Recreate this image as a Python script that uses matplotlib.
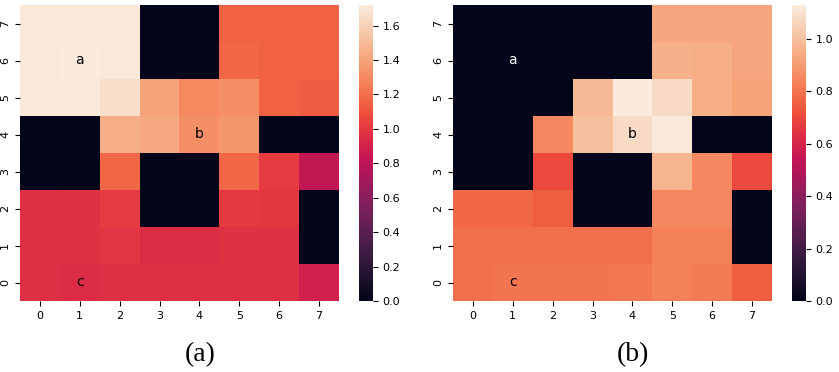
import matplotlib
matplotlib.use("Agg")
import matplotlib.pyplot as plt
import seaborn as sns
import numpy as np

# rows are y = 0 .. 7 (bottom to top), columns x = 0 .. 7
grid_a = [
    [0.97, 0.96, 0.97, 0.97, 0.97, 0.97, 0.97, 0.90],
    [0.97, 0.98, 0.99, 0.96, 0.96, 0.98, 0.98, 0.00],
    [0.97, 0.98, 1.02, 0.00, 0.00, 1.01, 1.00, 0.00],
    [0.00, 0.00, 1.17, 0.00, 0.00, 1.17, 1.02, 0.82],
    [0.00, 0.00, 1.45, 1.42, 1.32, 1.35, 0.00, 0.00],
    [1.70, 1.70, 1.66, 1.40, 1.30, 1.32, 1.15, 1.13],
    [1.70, 1.72, 1.70, 0.00, 0.00, 1.17, 1.15, 1.15],
    [1.70, 1.70, 1.70, 0.00, 0.00, 1.15, 1.15, 1.15],
]
grid_b = [
    [0.79, 0.80, 0.80, 0.80, 0.81, 0.83, 0.82, 0.75],
    [0.79, 0.79, 0.79, 0.79, 0.79, 0.83, 0.83, 0.00],
    [0.77, 0.77, 0.75, 0.00, 0.00, 0.85, 0.85, 0.00],
    [0.00, 0.00, 0.70, 0.00, 0.00, 0.97, 0.85, 0.70],
    [0.00, 0.00, 0.85, 1.00, 1.08, 1.12, 0.00, 0.00],
    [0.00, 0.00, 0.00, 0.98, 1.13, 1.08, 0.95, 0.92],
    [0.00, 0.00, 0.00, 0.00, 0.00, 0.96, 0.95, 0.93],
    [0.00, 0.00, 0.00, 0.00, 0.00, 0.93, 0.93, 0.93],
]
ticks = [str(i) for i in range(8)]
marks = [("a", 1, 6), ("b", 4, 4), ("c", 1, 0)]
captions = ["(a)", "(b)"]

fig = plt.figure(figsize=(8.39, 3.72), dpi=100)
W, H = 839, 372

def box(x0, y0, x1, y1):
    return [x0 / W, 1 - y1 / H, (x1 - x0) / W, (y1 - y0) / H]

layout = [
    (box(20, 5, 339, 301), box(359, 5, 373, 301), "black", 200),
    (box(453, 5, 772, 301), box(792, 5, 806, 301), "white", 633),
]

for k, grid in enumerate([grid_a, grid_b]):
    axbox, cbox, a_color, cap_x = layout[k]
    ax = fig.add_axes(axbox)
    cax = fig.add_axes(cbox)
    sns.heatmap(np.array(grid), ax=ax, cbar_ax=cax, cmap="rocket",
                xticklabels=ticks, yticklabels=ticks)
    ax.invert_yaxis()
    ax.tick_params(labelsize=8)
    plt.setp(ax.get_yticklabels(), rotation=90, va="center")
    plt.setp(ax.get_xticklabels(), rotation=0)
    cax.tick_params(labelsize=8)
    for txt, cx, cy in marks:
        col = a_color if txt == "a" else "black"
        ax.text(cx + 0.5, cy + 0.5, txt, color=col, fontsize=10,
                ha="center", va="center")
    fig.text(cap_x / W, 1 - 355 / H, captions[k], ha="center", va="center",
             fontsize=20, family="Liberation Serif")

fig.savefig("out.png", dpi=100)
